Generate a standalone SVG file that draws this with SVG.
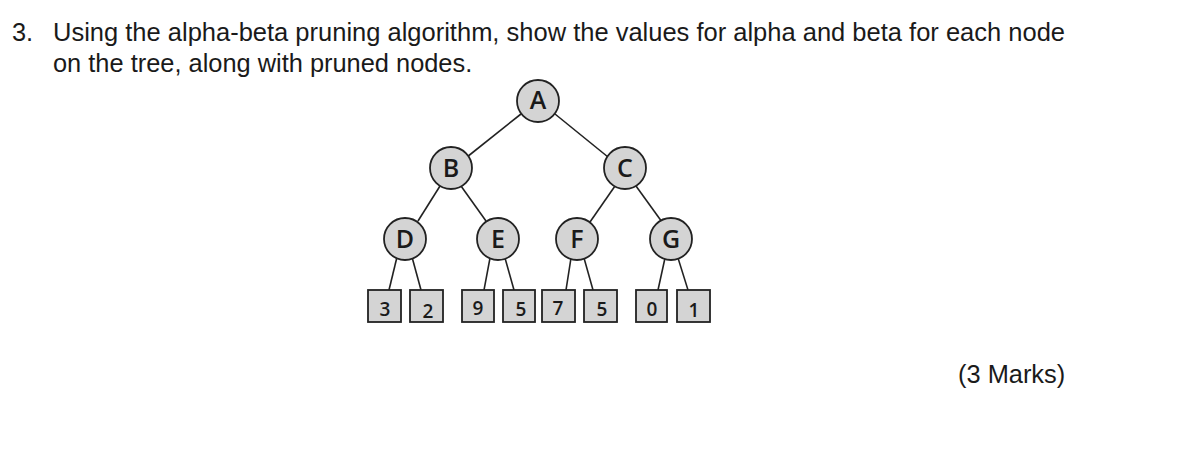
<svg xmlns="http://www.w3.org/2000/svg" width="1192" height="472" viewBox="0 0 1192 472">
<style>
.q{font-family:"Liberation Sans",Arial,sans-serif;font-size:25.4px;fill:#1a1a1a}
.n circle{fill:#d4d4d4;stroke:#222;stroke-width:1.8}
.n rect{fill:#d4d4d4;stroke:#222;stroke-width:1.8}
.n text{font-family:"Open Sans","DejaVu Sans",sans-serif;font-weight:600;fill:#1a1a1a;text-anchor:middle}
.l text{font-size:19px}
.c text{font-size:25px}
#edges line{stroke:#222;stroke-width:1.6}
</style>
<rect width="1192" height="472" fill="#fff"/>
<text class="q" x="12" y="41">3.</text>
<text class="q" x="53" y="41" textLength="1012" lengthAdjust="spacingAndGlyphs">Using the alpha-beta pruning algorithm, show the values for alpha and beta for each node</text>
<text class="q" x="53" y="72">on the tree, along with pruned nodes.</text>
<text class="q" x="958" y="383">(3 Marks)</text>
<g id="edges">
<line x1="521" y1="114" x2="467" y2="157"/>
<line x1="555" y1="114" x2="608" y2="157"/>
<line x1="440" y1="186" x2="418" y2="221"/>
<line x1="461" y1="186" x2="486" y2="221"/>
<line x1="615" y1="186" x2="590" y2="222"/>
<line x1="636" y1="186" x2="662" y2="222"/>
<line x1="397" y1="257" x2="389" y2="290"/>
<line x1="412" y1="257" x2="421" y2="290"/>
<line x1="490" y1="258" x2="484" y2="290"/>
<line x1="505" y1="258" x2="514" y2="290"/>
<line x1="571" y1="258" x2="566" y2="290"/>
<line x1="584" y1="258" x2="593" y2="290"/>
<line x1="665" y1="258" x2="658" y2="290"/>
<line x1="678" y1="258" x2="688" y2="290"/>
</g>
<g id="A" class="n c"><circle cx="538" cy="101" r="21"/><text x="538" y="109">A</text></g>
<g id="B" class="n c"><circle cx="451" cy="168" r="21"/><text x="451" y="177">B</text></g>
<g id="C" class="n c"><circle cx="625" cy="168" r="21"/><text x="625" y="177">C</text></g>
<g id="D" class="n c"><circle cx="405" cy="239" r="21"/><text x="405" y="248">D</text></g>
<g id="E" class="n c"><circle cx="498" cy="239" r="21"/><text x="498" y="248">E</text></g>
<g id="F" class="n c"><circle cx="577" cy="239" r="21"/><text x="577" y="248">F</text></g>
<g id="G" class="n c"><circle cx="671" cy="239" r="21"/><text x="671" y="248">G</text></g>
<g id="L1" class="n l"><rect x="368" y="290" width="33" height="32"/><text x="385" y="316">3</text></g>
<g id="L2" class="n l"><rect x="410" y="290" width="33" height="32"/><text x="428" y="318">2</text></g>
<g id="L3" class="n l"><rect x="462" y="290" width="32" height="32"/><text x="478" y="315">9</text></g>
<g id="L4" class="n l"><rect x="503" y="290" width="32" height="32"/><text x="521" y="316">5</text></g>
<g id="L5" class="n l"><rect x="542" y="290" width="33" height="32"/><text x="558" y="315">7</text></g>
<g id="L6" class="n l"><rect x="584" y="290" width="33" height="32"/><text x="602" y="316">5</text></g>
<g id="L7" class="n l"><rect x="636" y="290" width="31" height="32"/><text x="652" y="316">0</text></g>
<g id="L8" class="n l"><rect x="677" y="290" width="33" height="32"/><text x="694" y="317">1</text></g>
</svg>
